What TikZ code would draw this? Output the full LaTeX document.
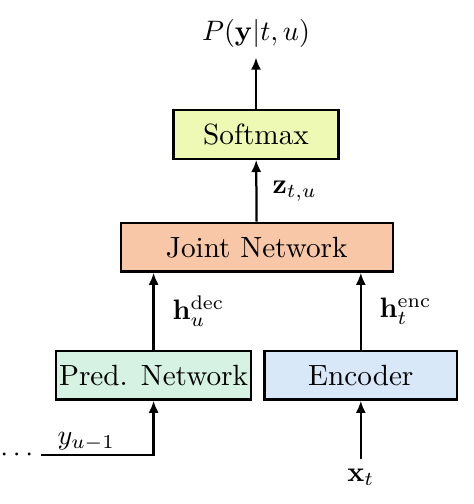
\documentclass[tikz,border=0pt]{standalone}
\usepackage{amsmath}
\usepackage{amssymb}
\usepackage{tikz}
\usetikzlibrary{arrows.meta}

\definecolor{softcol}{HTML}{EEF9B4}
\definecolor{jointcol}{HTML}{F7C7A7}
\definecolor{predcol}{HTML}{D5F2E2}
\definecolor{enccol}{HTML}{D9E8F9}

\begin{document}
\begin{tikzpicture}[font=\fontsize{10.4}{12}\selectfont]
  \tikzset{block/.style = {shape=rectangle,draw,thick,minimum height=0.61cm,inner sep=1pt}}
  \tikzset{edge/.style = {thick,-{Latex[length=4.3pt,width=3.6pt]}}}
  \useasboundingbox (0,0) rectangle (5.925,6.3);
	\node[block,fill=softcol,minimum width=2.06cm] (soft) at (3.2,4.62) {Softmax};
	\node[block,fill=jointcol,minimum width=3.4cm] (joint) at (3.21,3.21) {Joint Network};
	\node[block,fill=predcol,minimum width=2.39cm] (pred) at (1.92,1.61) {Pred. Network};
	\node[block,fill=enccol,minimum width=2.41cm] (enc) at (4.51,1.61) {Encoder};

	\node (out) at (3.2,5.88) {$P(\mathbf{y}|t,u)$};
	\node (xt) at (4.51,0.33) {$\mathbf{x}_t$};
	\node[inner sep=1pt] (dots) at (0.24,0.61) {$\cdots$};

    \draw[edge] (soft) -- (out);
    \draw[edge] (joint) -- node [right,xshift=2pt]{$\mathbf{z}_{t,u}$} (soft);
    \foreach \from/\r in {pred/{\mathbf{h}_u^{\mathrm{dec}}},enc/{\mathbf{h}_t^{\mathrm{enc}}}}
    \draw[edge] (\from) -- node [right,xshift=3pt]{$\r$} (\from |- joint.south);
    \draw[edge] (xt) -- (enc);
    \draw[edge] (dots.east) -- node [above,pos=0.4,inner sep=1pt]{$y_{u-1}$} (pred.south |- dots.east) -- (pred);
\end{tikzpicture}
\end{document}
